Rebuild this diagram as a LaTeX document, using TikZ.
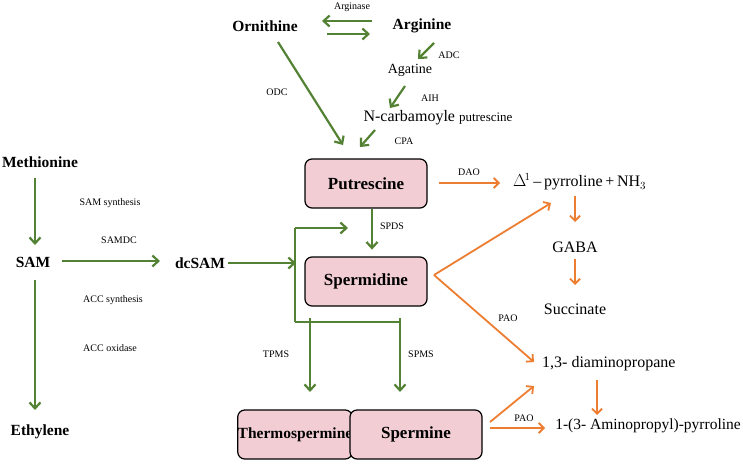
\documentclass[tikz,border=0pt]{standalone}
\usepackage{fontspec}
\setmainfont{Liberation Serif}
\usetikzlibrary{arrows.meta}
\definecolor{gr}{HTML}{548235}
\definecolor{og}{HTML}{ED7D31}
\definecolor{pk}{HTML}{F2CED4}
\begin{document}
\begin{tikzpicture}[x=1pt,y=-1pt,
 ga/.style={draw=gr,line width=2.2pt,-{Straight Barb[length=6pt,width=11pt,line width=2.2pt]}},
 oa/.style={draw=og,line width=1.8pt,-{Straight Barb[length=5pt,width=10pt,line width=1.8pt]}},
 gl/.style={draw=gr,line width=2.2pt},
 box/.style={draw=black,line width=1.2pt,fill=pk,rounded corners=7pt,font=\bfseries\fontsize{17}{19}\selectfont,inner sep=0pt},
 bl/.style={font=\bfseries\fontsize{15.5}{17}\selectfont,inner sep=1pt},
 sl/.style={font=\fontsize{10}{11}\selectfont,inner sep=1pt},
 tl/.style={font=\fontsize{16}{18}\selectfont,inner sep=1pt}]
\useasboundingbox (0,0) rectangle (743,463);
% nodes
\node[bl] (orn) at (265,26) {Ornithine};
\node[bl] (arg) at (422,26) {Arginine};
\node[sl] at (352,7) {Arginase};
\node[font=\fontsize{14}{16}\selectfont] (aga) at (410,70) {Agatine};
\node[sl] at (449,55) {ADC};
\node[sl] at (430,98) {AIH};
\node[inner sep=1pt] (ncp) at (438,118) {\fontsize{16}{18}\selectfont N-carbamoyle \fontsize{13}{15}\selectfont putrescine};
\node[sl] at (404,141) {CPA};
\node[sl] at (277,92) {ODC};
\node[box,minimum width=122pt,minimum height=49pt] (put) at (366,183.5) {Putrescine};
\node[box,minimum width=122pt,minimum height=49pt] (spd) at (366,281.5) {Spermidine};
\node[box,minimum width=102pt,minimum height=49pt,font=\bfseries\fontsize{15.5}{17}\selectfont] (tsp) at (295,434.5) {Thermospermine};
\node[box,minimum width=132pt,minimum height=49pt] (spm) at (416,434.5) {Spermine};
\node[sl] at (469,172) {DAO};
\node[tl,anchor=west] (pyr) at (512,182) {$\Delta^{\!1}$\,--\,pyrroline\,+\,NH$_3$};
\node[tl] (gaba) at (575,247) {GABA};
\node[tl] (suc) at (575,309) {Succinate};
\node[sl] at (508,318) {PAO};
\node[tl,anchor=west] (dap) at (541,364) {1,3- diaminopropane};
\node[tl,anchor=east,font=\fontsize{15.5}{17}\selectfont] (app) at (742,426) {1-(3- Aminopropyl)-pyrroline};
\node[sl] at (524,418) {PAO};
\node[sl] at (392,226) {SPDS};
\node[sl] at (276,354) {TPMS};
\node[sl] at (421,354) {SPMS};
\node[bl] (met) at (40,162) {Methionine};
\node[sl] at (110,203) {SAM synthesis};
\node[bl] (sam) at (33,262) {SAM};
\node[sl] at (119,240) {SAMDC};
\node[bl] (dcs) at (200,263) {dcSAM};
\node[sl] at (113,300) {ACC synthesis};
\node[sl] at (110,348) {ACC oxidase};
\node[bl] (eth) at (40,432) {Ethylene};
% coordinates
\coordinate (b1) at (295,228); \coordinate (b2) at (295,322);
\coordinate (b3) at (400,322); \coordinate (t1) at (310,322);
% green arrows
\draw[ga] (372,21) -- (322,21);
\draw[ga] (327,34) -- (370,34);
\draw[ga] (434,43) -- (418,59);
\draw[ga] (405,86) -- (390,108);
\draw[ga] (375,130) -- (360,147);
\draw[ga] (278,42) -- (343,145);
\draw[ga] (put.south) ++(6,0) -- ++(0,41);
\draw[ga] (35,178) -- (35,245);
\draw[ga] (62,261) -- (160,261);
\draw[ga] (35,280) -- (35,410);
\draw[ga] (dcs.east) ++(2,0) -- (296,263);
\draw[gl] (b2) -- (b1);
\draw[ga] (b1) -- (348,228);
\draw[gl] (b2) -- (b3);
\draw[ga] (t1) ++(0,-4) -- (310,392);
\draw[ga] (b3) ++(0,-4) -- (400,392);
% orange arrows
\draw[oa] (439,183) -- (500,183);
\draw[oa] (575,196) -- (575,222);
\draw[oa] (575,259) -- (575,285);
\draw[oa] (434,275) -- (551,203);
\draw[oa] (434,275) -- (534,362);
\draw[oa] (597,380) -- (597,415);
\draw[oa] (490,422) -- (534,386);
\draw[oa] (490,428) -- (545,428);
\end{tikzpicture}
\end{document}
